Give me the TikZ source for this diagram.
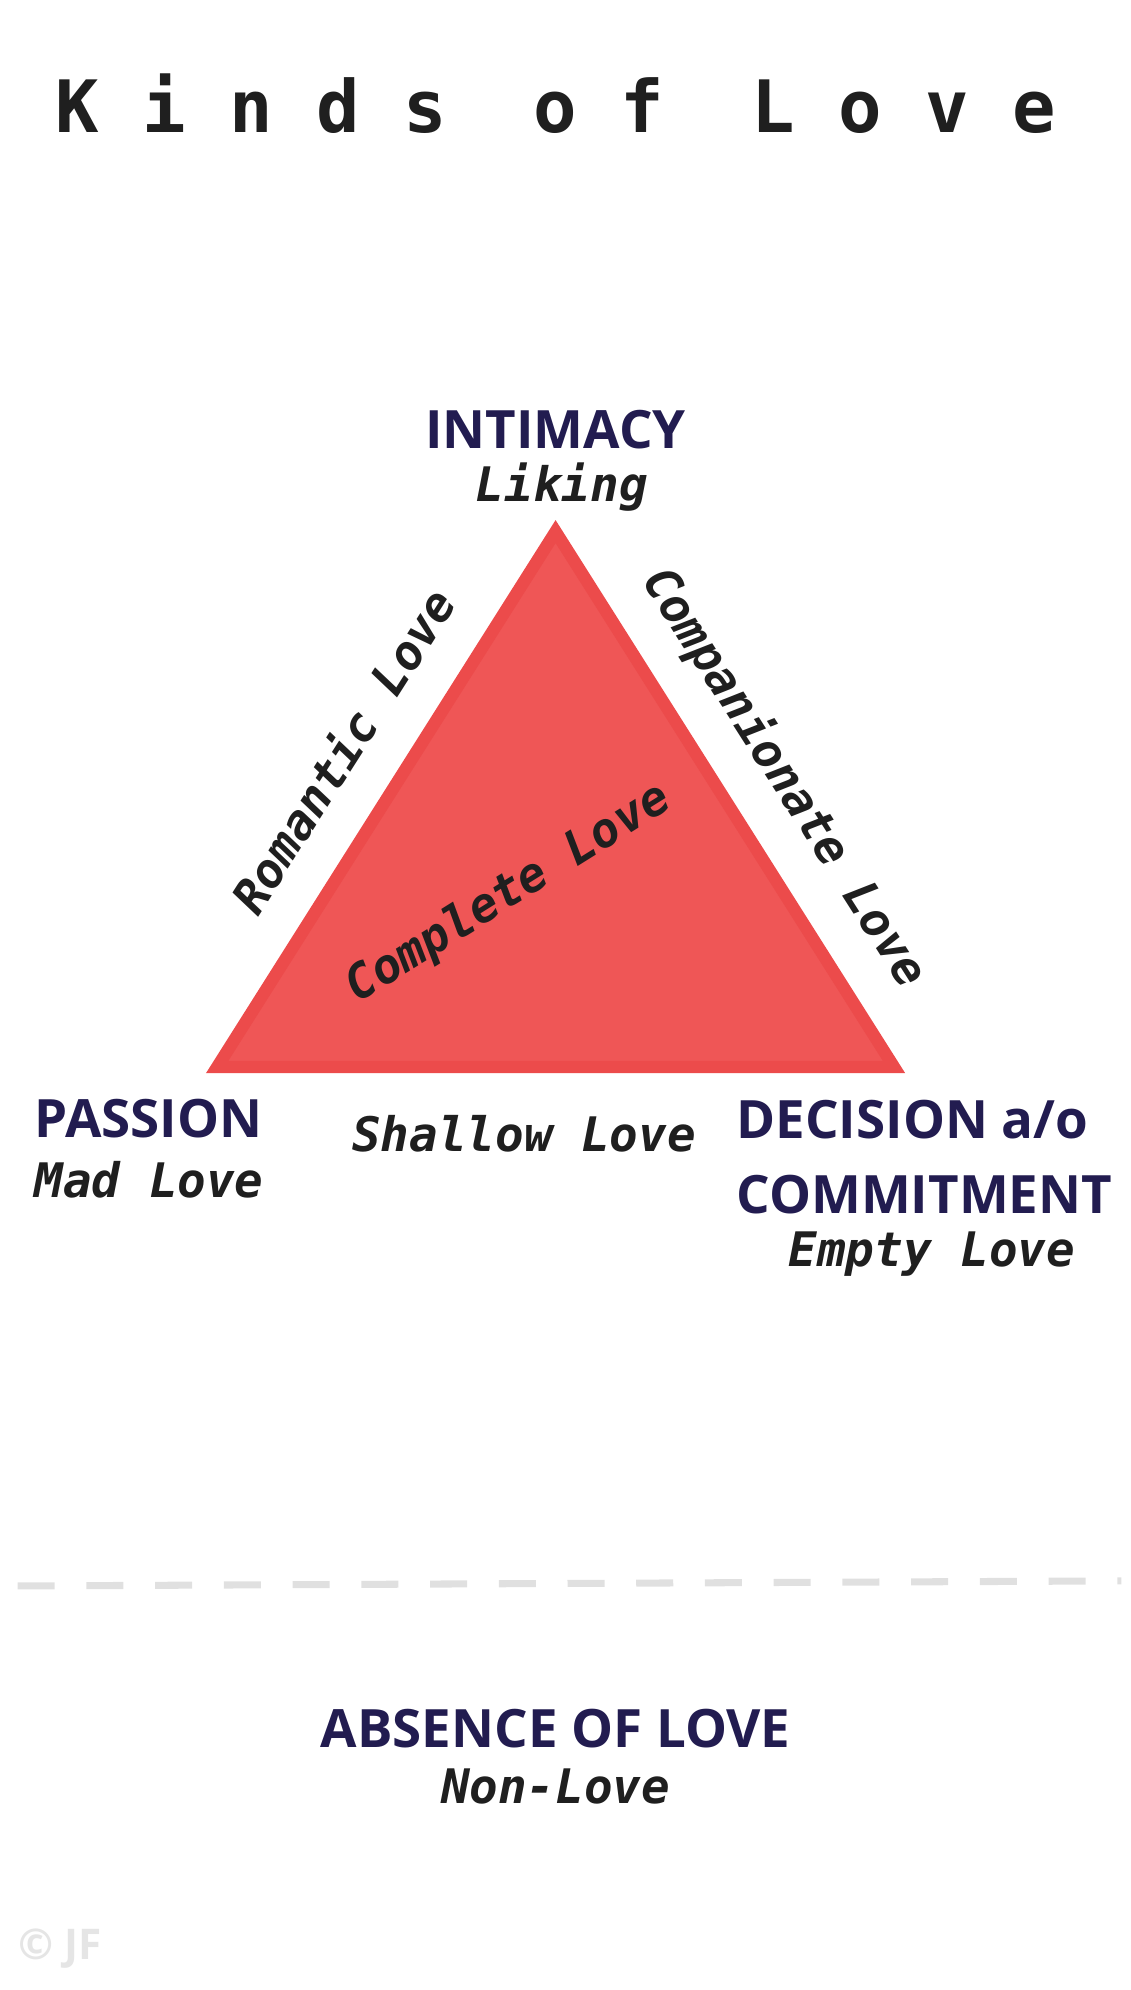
\documentclass[tikz,border=0pt]{standalone}
\usepackage{fontspec}
\setmainfont{Open Sans}
\newfontfamily\monofont{DejaVu Sans Mono}
\usetikzlibrary{positioning}
\definecolor{navy}{HTML}{221C50}
\definecolor{lovered}{HTML}{EF5656}
\definecolor{edgered}{HTML}{EC4B4B}
\tikzset{
  corner/.style={font=\fontsize{30}{34}\selectfont\bfseries, text=navy, inner sep=0pt},
  kind/.style={font=\monofont\fontsize{27}{31}\selectfont\bfseries\itshape, text=black!88, inner sep=0pt},
}
\begin{document}
\begin{tikzpicture}[x=0.7165pt,y=-0.7165pt]
\useasboundingbox (0,0) rectangle (895,1576);
\node[font=\monofont\fontsize{41}{45}\selectfont\bfseries, text=black!88, inner sep=0pt] (title) at (440,82) {K\ i\ n\ d\ s\ \ o\ f\ \ L\ o\ v\ e};
% triangle
\coordinate (top) at (440,421);
\coordinate (left) at (172,845);
\coordinate (right) at (708,845);
\filldraw[fill=lovered, draw=edgered, line width=7pt, line join=miter] (top) -- (left) -- (right) -- cycle;
% corners
\node[corner] (intimacy) at (440,340) {INTIMACY};
\node[kind] (liking) at (445,386) {Liking};
\node[corner, anchor=west] (passion) at (27,886) {PASSION};
\node[kind, anchor=west] (mad) at (27,934) {Mad Love};
\node[corner, anchor=west] (decision) at (583,887) {DECISION a/o};
\node[corner, anchor=west] (commit) at (583,946) {COMMITMENT};
\node[kind] (empty) at (738,993) {Empty Love};
% sides
\node[kind, rotate=57.5] (romantic) at (271,594) {Romantic Love};
\node[kind, rotate=-57.5] (compan) at (621,616) {Companionate Love};
\node[kind, rotate=32] (complete) at (403,708) {Complete Love};
\node[kind] (shallow) at (415,898) {Shallow Love};
% absence
\draw[black!12, line width=4pt, dash pattern=on 21pt off 18pt] (14,1256) -- (888,1252);
\node[corner] (absence) at (440,1369) {ABSENCE OF LOVE};
\node[kind] (nonlove) at (440,1415) {Non-Love};
\node[font=\fontsize{24}{28}\selectfont\bfseries, text=black!10, anchor=west, inner sep=0pt] (jf) at (14,1543) {© JF};
\end{tikzpicture}
\end{document}
